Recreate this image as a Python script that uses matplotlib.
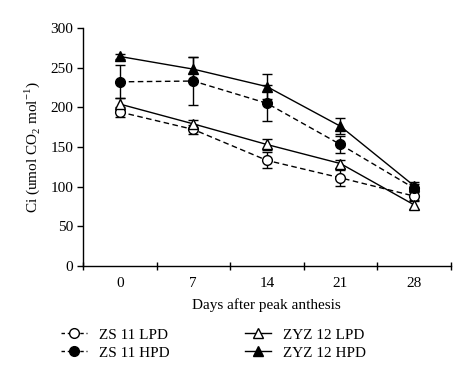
import numpy as np
import matplotlib.pyplot as plt
from matplotlib.lines import Line2D

plt.rcParams['font.family'] = ['Liberation Serif', 'DejaVu Serif']
plt.rcParams['mathtext.fontset'] = 'custom'
plt.rcParams['mathtext.rm'] = 'Liberation Serif'

days = [0, 7, 14, 21, 28]

zs_lpd = [194, 172, 133, 111, 88]
zs_lpd_err = [6, 6, 10, 10, 5]
zs_hpd = [232, 233, 205, 153, 98]
zs_hpd_err = [21, 30, 23, 11, 5]
zyz_lpd = [204, 179, 153, 129, 77]
zyz_lpd_err = [7, 5, 7, 5, 5]
zyz_hpd = [264, 248, 226, 176, 101]
zyz_hpd_err = [3, 15, 16, 10, 5]

series = [
	('ZS 11 LPD', zs_lpd, zs_lpd_err, 'o', 'white', '--'),
	('ZS 11 HPD', zs_hpd, zs_hpd_err, 'o', 'black', '--'),
	('ZYZ 12 LPD', zyz_lpd, zyz_lpd_err, '^', 'white', '-'),
	('ZYZ 12 HPD', zyz_hpd, zyz_hpd_err, '^', 'black', '-'),
]

fig = plt.figure(figsize=(4.74, 3.82), dpi=100)
ax = fig.add_axes([0.175, 0.304, 0.776, 0.623])

handles = []
for name, vals, err, mk, fc, ls in series:
	dash = (4, 2.5) if ls == '--' else (None, None)
	ax.errorbar(days, vals, yerr=err, color='black', linestyle=ls, linewidth=1.0,
		marker=mk, markersize=7, markerfacecolor=fc, markeredgecolor='black',
		markeredgewidth=1.0, capsize=3.5, elinewidth=1.0, capthick=1.0,
		dashes=dash)
	# legend entry without error bars
	handles.append(Line2D([], [], color='black', linestyle=ls, linewidth=1.0,
		dashes=(2.5, 2) if ls == '--' else (None, None),
		marker=mk, markersize=7, markerfacecolor=fc, markeredgecolor='black', label=name))

ax.set_xlim(-3.5, 31.5)
ax.set_ylim(0, 300)
ax.set_xticks([-3.5, 3.5, 10.5, 17.5, 24.5, 31.5])
ax.set_xticklabels([])
ax.set_xticks(days, minor=True)
ax.set_xticklabels([str(d) for d in days], minor=True)
ax.tick_params(axis='x', which='major', direction='inout', length=6, width=1)
ax.tick_params(axis='x', which='minor', length=0, pad=8, labelsize=11)
ax.set_yticks(np.arange(0, 301, 50))
ax.tick_params(axis='y', direction='out', length=4, width=1, labelsize=11, pad=3)
for s in ['top', 'right']:
	ax.spines[s].set_visible(False)
ax.spines['left'].set_linewidth(1)
ax.spines['bottom'].set_linewidth(1)

ax.set_xlabel('Days after peak anthesis', fontsize=11, labelpad=6)
ax.set_ylabel('Ci (umol CO$_2$ mol$^{-1}$)', fontsize=11, labelpad=6)

fig.legend(handles=handles, loc='center', bbox_to_anchor=(0.45, 0.1), ncol=2,
	frameon=False, fontsize=11, handlelength=1.7, columnspacing=4.9,
	handletextpad=0.8, labelspacing=0.3)

fig.savefig('out.png', dpi=100)
